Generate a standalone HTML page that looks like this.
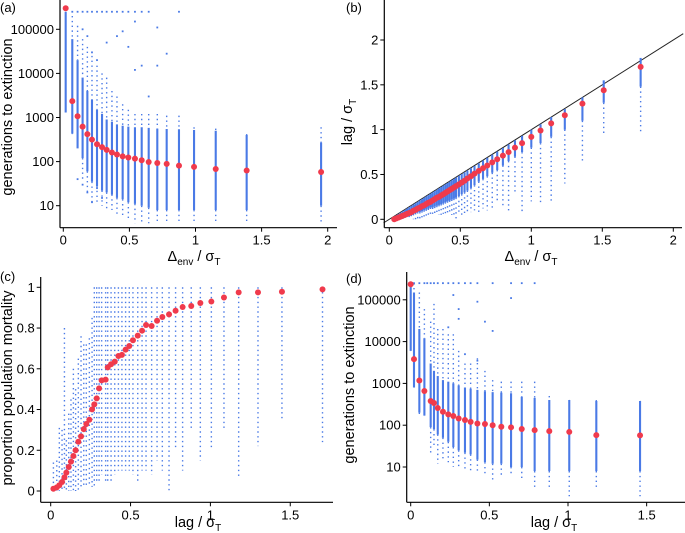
<!DOCTYPE html>
<html><head><meta charset="utf-8"><style>
html,body{margin:0;padding:0;background:#fff;width:685px;height:533px;overflow:hidden}
svg{display:block;font-family:"Liberation Sans",Arial,sans-serif}
</style></head><body>
<svg id="fig" width="685" height="533" viewBox="0 0 685 533"></svg>
<script>
// ---- panel (a) data ----
const aX=[0.018,0.068,0.108,0.146,0.182,0.217,0.255,0.293,0.328,0.368,0.406,0.449,0.492,0.542,0.593,0.646,0.711,0.782,0.875,0.989,1.153,1.387,1.95];
const aMean=[300000,2350,1070,620,420,316,247,213,185,161,145,131,124,117,107,98,93,89,81,76,68,63,58];
const aDotTop=[250000,200000,120000,60000,40000,25000,15000,10000,8000,4000,3000,2000,1500,1200,1200,1200,1200,1100,1100,600,560,420,600];
const aDenseTop=[250000,60000,20000,8000,4000,2500,1500,1200,900,800,700,650,620,600,600,580,560,550,540,520,500,400,270];
const aDenseBot=[1300,430,200,120,60,35,28,22,20,18,15,14,12,11,10,9,8,8,8,8,8,8,10];
const aDotBot=[1300,420,200,40,20,12,12,10,8,8,6,6,5,4,4,4,4,4,4,4,4,4,4];
const aOutX=[0.068,0.108,0.146,0.182,0.217,0.255,0.293,0.328,0.368,0.406,0.449,0.492,0.542,0.593,0.646,0.875,0.146,0.182,0.217,0.255,0.328,0.406,0.449,0.542,0.593,0.711,0.711,0.782,0.542,0.492,0.646,0.108,0.146,0.182,0.217,0.255,0.293];
const aOutY=[250000,250000,250000,250000,250000,250000,250000,250000,250000,250000,250000,250000,250000,250000,250000,250000,100000,70000,30000,20000,50000,70000,90000,150000,15000,110000,15000,28000,12000,40000,3000,40,30,20,12,25,15];
// ---- panel (b) data ----
const bX=[0.035,0.05,0.065,0.08,0.095,0.11,0.125,0.14,0.155,0.17,0.185,0.2,0.215,0.23,0.245,0.26,0.275,0.29,0.305,0.32,0.335,0.35,0.365,0.38,0.395,0.41,0.425,0.44,0.455,0.47,0.49,0.51,0.53,0.55,0.575,0.6,0.63,0.66,0.69,0.725,0.76,0.8,0.84,0.885,0.935,1.0,1.065,1.14,1.236,1.36,1.51,1.77];
const bMean=[0,0.01,0.02,0.03,0.04,0.05,0.06,0.07,0.08,0.095,0.105,0.12,0.13,0.145,0.155,0.17,0.185,0.195,0.21,0.225,0.24,0.25,0.265,0.28,0.295,0.31,0.325,0.34,0.355,0.37,0.39,0.41,0.43,0.455,0.48,0.51,0.54,0.57,0.6,0.635,0.67,0.71,0.75,0.8,0.85,0.92,0.99,1.07,1.16,1.29,1.44,1.70];
const bTop=[0.03,0.045,0.06,0.075,0.09,0.105,0.12,0.135,0.15,0.165,0.18,0.195,0.21,0.225,0.24,0.255,0.27,0.285,0.3,0.315,0.33,0.345,0.36,0.375,0.39,0.405,0.42,0.435,0.45,0.465,0.485,0.505,0.525,0.545,0.57,0.595,0.625,0.655,0.685,0.72,0.755,0.795,0.835,0.88,0.93,1.0,1.06,1.14,1.23,1.36,1.55,1.8];
const bBot=[0,0,0,0.01,0.02,0.03,0.04,0.04,0.05,0.06,0.07,0.08,0.08,0.09,0.1,0.11,0.12,0.13,0.13,0.14,0.15,0.16,0.17,0.18,0.19,0.2,0.21,0.22,0.23,0.24,0.26,0.28,0.3,0.32,0.35,0.38,0.42,0.45,0.48,0.52,0.55,0.6,0.65,0.7,0.75,0.8,0.85,0.92,1.0,1.1,1.3,1.48];
const bMin=[0,0,0,0,0,0,0,0,0,0,0,0,0.01,0.02,0.02,0.02,0.03,0.03,0.04,0.04,0.05,0.05,0.05,0.06,0.06,0.06,0.07,0.05,0.05,0,0.06,0.05,0.07,0.06,0.08,0.1,0.08,0.12,0.1,0.1,0.2,0.15,0.1,0.3,0.06,0.2,0.18,0.2,0.4,0.65,0.95,0.98];
// ---- panel (c) data ----
const cX=[0.017,0.038,0.054,0.071,0.086,0.098,0.113,0.127,0.142,0.156,0.173,0.190,0.207,0.223,0.242,0.259,0.273,0.288,0.303,0.319,0.344,0.357,0.378,0.401,0.424,0.446,0.469,0.492,0.515,0.545,0.572,0.597,0.632,0.666,0.699,0.741,0.782,0.826,0.880,0.937,1.006,1.085,1.177,1.298,1.448,1.702];
const cMean=[0.011,0.018,0.028,0.044,0.067,0.090,0.118,0.144,0.172,0.200,0.242,0.268,0.304,0.329,0.350,0.401,0.425,0.455,0.504,0.543,0.547,0.607,0.622,0.635,0.663,0.668,0.694,0.712,0.740,0.763,0.787,0.815,0.810,0.836,0.854,0.867,0.885,0.903,0.908,0.923,0.930,0.950,0.975,0.975,0.978,0.990];
const cTop=[0.14,0.15,0.31,0.3,0.8,0.25,0.38,0.45,0.6,0.5,0.65,0.76,0.72,0.72,0.75,0.85,1,1,1,1,1,1,1,1,1,1,1,1,1,1,1,1,1,1,1,1,1,1,1,1,1,1,1,1,1,1];
const cBot=[0,0,0,0,0,0,0,0,0,0,0,0.01,0.02,0.03,0.03,0.02,0.02,0.05,0.05,0.08,0.05,0.05,0.05,0.08,0.1,0.1,0.1,0.1,0.08,0.05,0.1,0.1,0.08,0.15,0.1,0,0.2,0.1,0.3,0.15,0.2,0.3,0.06,0.22,0.35,0.24];
// ---- panel (d) data ----
const dX=[0,0.021,0.055,0.087,0.127,0.148,0.172,0.205,0.239,0.271,0.305,0.345,0.381,0.424,0.472,0.521,0.576,0.638,0.706,0.788,0.881,1.008,1.18,1.458];
const dMean=[235000,3800,1170,660,380,340,258,210,182,166,145,133,120,110,107,100,92,89,81,76,72,69,58,57];
const dDotTop=[250000,250000,150000,60000,30000,80000,20000,20000,15000,15000,6000,3000,3000,4000,2000,1200,1100,1100,1100,1100,500,400,400,380];
const dDenseTop=[250000,150000,20000,12000,3000,2000,1500,1200,1100,1000,900,800,750,700,650,620,600,580,480,450,400,400,380,380];
const dDenseBot=[6000,800,200,170,90,80,60,50,40,30,25,22,20,15,13,12,12,10,10,8,8,8,8,8];
const dDotBot=[6000,800,180,170,20,30,12,15,13,10,9,9,8,8,7,5,6,6,5,3,3,2,3,2];
const dOutX=[0.021,0.055,0.087,0.105,0.127,0.148,0.172,0.205,0.239,0.271,0.305,0.345,0.381,0.424,0.521,0.638,0.706,0.788,0.638,0.424,0.305,0.271,0.305,0.472,0.521,0.239,0.345,0.424];
const dOutY=[250000,250000,250000,250000,250000,250000,250000,250000,250000,250000,250000,250000,250000,250000,250000,250000,250000,250000,110000,90000,60000,130000,35000,30000,18000,22000,5000,3500];

const NS="http://www.w3.org/2000/svg";
const svg=document.getElementById('fig');
const BLUE="#4a7ae6", RED="#f03a4c";
function mk(tag,attrs,parent){const e=document.createElementNS(NS,tag);for(const k in attrs)e.setAttribute(k,attrs[k]);(parent||svg).appendChild(e);return e;}
function grp(name){const g=mk('g',{});


return g;}

function axes(p){
  const g=grp(p.name+'-axes');
  const yl=mk('line',{x1:p.left,y1:p.top,x2:p.left,y2:p.bottom,stroke:'#000','stroke-width':1.2},g);
  
  
  const xl=mk('line',{x1:p.left,y1:p.bottom,x2:p.right,y2:p.bottom,stroke:'#000','stroke-width':1.2},g);
  
  
  p.xt.forEach((v,i)=>{const x=p.sx(v);
    mk('line',{x1:x,y1:p.bottom,x2:x,y2:p.bottom+4,stroke:'#000'},g);
    const t=mk('text',{x:x,y:p.bottom+17,'font-size':13,'text-anchor':'middle'},g);t.textContent=p.xl[i];
    
    });
  p.yt.forEach((v,i)=>{const y=p.sy(v);
    mk('line',{x1:p.left-4,y1:y,x2:p.left,y2:y,stroke:'#000'},g);
    const t=mk('text',{x:p.left-6,y:y+4.5,'font-size':13,'text-anchor':'end'},g);t.textContent=p.yl[i];
    
    });
  const xt=mk('text',{x:p.xtx,y:p.xty,'font-size':14.5,'text-anchor':'middle'},g);xt.innerHTML=p.xtitle;
  
  
  const yt=mk('text',{x:0,y:0,'font-size':14.5,'text-anchor':'middle',transform:`translate(${p.ytx},${p.yty}) rotate(-90)`},g);yt.innerHTML=p.ytitle;
  
  
  const lab=mk('text',{x:p.lx,y:p.ly,'font-size':13},g);lab.textContent=p.label;
  
  
}
function seg(g,x,y1,y2,dashed,name){
  const l=mk('line',{x1:x,y1:y1,x2:x,y2:y2,stroke:BLUE,'stroke-width':dashed?1.4:2.1},g);
  if(dashed)l.setAttribute('stroke-dasharray','1.4 3.4');
  
  
}
function dot(g,x,y,name){const r=mk('rect',{x:x-0.9,y:y-0.9,width:1.8,height:1.8,fill:BLUE},g);
  
  }
function mean(g,x,y,name){const c=mk('circle',{cx:x,cy:y,r:3,fill:RED},g);
  
  }

const lg=Math.log10;
const sub=(a,b)=>`${a}<tspan font-size="10" dy="4">${b}</tspan><tspan dy="-4"> </tspan>`;
const xEnv=sub('Δ','env')+'/ '+sub('σ','T');
const xLag='lag / '+sub('σ','T');
const logTicks=[10,100,1000,10000,100000], logLabels=['10','100','1000','10000','100000'];

const A={name:'panel-a',left:60,right:337,top:0,bottom:227.7,sx:v=>63.3+v*132.2,sy:v=>205.7-(lg(v)-1)*44.1,
 xt:[0,0.5,1,1.5,2],xl:['0','0.5','1','1.5','2'],yt:logTicks,yl:logLabels,xtitle:xEnv,ytitle:'generations to extinction',
 xtx:194,xty:261,ytx:12,yty:117,lx:0,ly:12,label:'(a)'};
const B={name:'panel-b',left:384.3,right:682,top:0,bottom:227.7,sx:v=>389.3+v*142,sy:v=>219.3-v*89.65,
 xt:[0,0.5,1,1.5,2],xl:['0','0.5','1','1.5','2'],yt:[0,0.5,1,1.5,2],yl:['0','0.5','1','1.5','2'],xtitle:xEnv,ytitle:'lag / '+sub('σ','T'),
 xtx:531,xty:261,ytx:352,yty:122,lx:346,ly:12,label:'(b)'};
const C={name:'panel-c',left:40.7,right:333,top:277,bottom:502.3,sx:v=>50.7+v*159.7,sy:v=>491-v*203.7,
 xt:[0,0.5,1,1.5],xl:['0','0.5','1','1.5'],yt:[0,0.2,0.4,0.6,0.8,1],yl:['0','0.2','0.4','0.6','0.8','1'],xtitle:xLag,ytitle:'proportion population mortality',
 xtx:198,xty:527,ytx:12,yty:388,lx:0,ly:281,label:'(c)'};
const D={name:'panel-d',left:406.7,right:685,top:272,bottom:502.3,sx:v=>410.7+v*157.3,sy:v=>467-(lg(v)-1)*41.8,
 xt:[0,0.5,1,1.5],xl:['0','0.5','1','1.5'],yt:logTicks,yl:logLabels,xtitle:xLag,ytitle:'generations to extinction',
 xtx:554,xty:527,ytx:354,yty:385,lx:346,ly:283,label:'(d)'};

(function(){const g=grp('panel-a-scatter');
 aX.forEach((v,i)=>{const x=A.sx(v);
  seg(g,x,A.sy(aDotTop[i]),A.sy(aDenseTop[i]),true,'panel-a-column-sparse');
  seg(g,x,A.sy(aDenseTop[i]),A.sy(aDenseBot[i]),false,'panel-a-column');
  seg(g,x,A.sy(aDenseBot[i]),A.sy(aDotBot[i]),true,'panel-a-column-sparse');});
 aOutX.forEach((v,i)=>dot(g,A.sx(v),A.sy(aOutY[i]),'panel-a-point'));
 aX.forEach((v,i)=>mean(g,A.sx(v),A.sy(aMean[i]),'panel-a-mean'));})();
axes(A);
(function(){const g=grp('panel-b-scatter');
 const l=mk('line',{x1:B.sx(-0.04),y1:B.sy(-0.04),x2:B.sx(2.07),y2:B.sy(2.07),stroke:'#222','stroke-width':1},g);
 
 
 bX.forEach((v,i)=>{const x=B.sx(v);
  seg(g,x,B.sy(bTop[i]),B.sy(bBot[i]),false,'panel-b-column');
  seg(g,x,B.sy(bBot[i]),B.sy(bMin[i]),true,'panel-b-column-sparse');});
 bX.forEach((v,i)=>mean(g,B.sx(v),B.sy(bMean[i]),'panel-b-mean'));})();
axes(B);
(function(){const g=grp('panel-c-scatter');
 cX.forEach((v,i)=>seg(g,C.sx(v),C.sy(cTop[i]),C.sy(cBot[i]),true,'panel-c-column'));
 cX.forEach((v,i)=>mean(g,C.sx(v),C.sy(cMean[i]),'panel-c-mean'));})();
axes(C);
(function(){const g=grp('panel-d-scatter');
 dX.forEach((v,i)=>{const x=D.sx(v);
  seg(g,x,D.sy(dDotTop[i]),D.sy(dDenseTop[i]),true,'panel-d-column-sparse');
  seg(g,x,D.sy(dDenseTop[i]),D.sy(dDenseBot[i]),false,'panel-d-column');
  seg(g,x,D.sy(dDenseBot[i]),D.sy(dDotBot[i]),true,'panel-d-column-sparse');});
 dOutX.forEach((v,i)=>dot(g,D.sx(v),D.sy(dOutY[i]),'panel-d-point'));
 dX.forEach((v,i)=>mean(g,D.sx(v),D.sy(dMean[i]),'panel-d-mean'));})();
axes(D);
</script>
</body></html>
